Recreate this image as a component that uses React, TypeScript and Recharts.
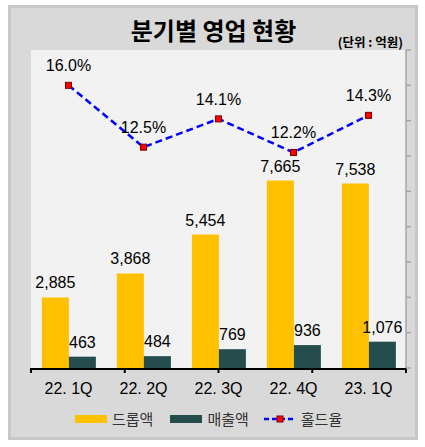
import React from "react";
import {
  ComposedChart,
  Bar,
  Line,
  XAxis,
  YAxis,
  CartesianGrid,
  LabelList,
} from "recharts";

const categories = ["22. 1Q", "22. 2Q", "22. 3Q", "22. 4Q", "23. 1Q"];
const dropAmount = [2885, 3868, 5454, 7665, 7538];
const salesAmount = [463, 484, 769, 936, 1076];
const holdRate = [16.0, 12.5, 14.1, 12.2, 14.3];
const rateTicks = [0, 2, 4, 6, 8, 10, 12, 14, 16, 18];
const boundaryTicks = [0, 1, 2, 3, 4, 5];

const title = "분기별 영업 현황";
const unitText = "(단위 : 억원)";
const legendNames = ["드롭액", "매출액", "홀드율"];

const data = categories.map((c, i) => ({
  name: c,
  drop: dropAmount[i],
  sales: salesAmount[i],
  rate: holdRate[i],
}));

const YELLOW = "#FFC000";
const TEAL = "#254D4D";
const BLUE = "#0000FF";
const FONT = "'Liberation Sans', Arial, 'Noto Sans CJK KR', sans-serif";
const KFONT = "'Noto Sans CJK KR', 'Liberation Sans', sans-serif";

const SquareDot = (props: any) => {
  const { cx, cy } = props;
  if (cx == null || cy == null) return null;
  return (
    <rect
      x={cx - 3}
      y={cy - 3}
      width={6}
      height={6}
      fill="#FF0000"
      stroke="#7A0000"
      strokeWidth={1}
    />
  );
};

export default function App() {
  return (
    <div
      style={{
        position: "absolute",
        left: 0,
        top: 0,
        width: 425,
        height: 447,
        background: "#ffffff",
      }}
    >
      <div
        style={{
          position: "absolute",
          left: 8,
          top: 5,
          width: 410,
          height: 435,
          boxSizing: "border-box",
          border: "3px solid #C8C8C8",
          background: "#D9D9D9",
        }}
      />
      <div
        style={{
          position: "absolute",
          left: 0,
          width: 425,
          top: 15,
          textAlign: "center",
          fontFamily: KFONT,
          fontWeight: 700,
          fontSize: 24,
          lineHeight: "30px",
          color: "#000",
          paddingLeft: 2,
          boxSizing: "border-box",
        }}
      >
        {title}
      </div>
      <div
        style={{
          position: "absolute",
          right: 22,
          top: 34,
          fontFamily: KFONT,
          fontWeight: 700,
          fontSize: 12.5,
          lineHeight: "16px",
          color: "#000",
        }}
      >
        {unitText}
      </div>
      <div style={{ position: "absolute", left: 0, top: 0 }}>
        <ComposedChart
          width={425}
          height={447}
          data={data}
          margin={{ top: 50, right: 13, bottom: 48, left: 31 }}
          barCategoryGap="14.5%"
          barGap={0}
        >
          <CartesianGrid
            fill="#F2F2F2"
            horizontal={false}
            vertical={false}
            stroke="none"
          />
          <XAxis
            xAxisId="b"
            type="number"
            domain={[0, 5]}
            ticks={boundaryTicks}
            tickFormatter={() => ""}
            tickSize={5}
            tickLine={{ stroke: "#000", strokeWidth: 2 }}
            axisLine={false}
            height={1}
            allowDataOverflow
          />
          <XAxis
            dataKey="name"
            xAxisId="m"
            height={30}
            tickLine={false}
            axisLine={{ stroke: "#000", strokeWidth: 2 }}
            tick={{ fill: "#000", fontSize: 16, fontFamily: FONT }}
            tickMargin={8}
            interval={0}
          />
          <YAxis yAxisId="l" hide domain={[0, 13000]} />
          <YAxis
            yAxisId="r"
            orientation="right"
            domain={[0, 18]}
            ticks={rateTicks}
            tickFormatter={() => ""}
            tickSize={5}
            width={6}
            axisLine={{ stroke: "#A6A6A6", strokeWidth: 1.5 }}
            tickLine={{ stroke: "#A6A6A6", strokeWidth: 1.5 }}
          />
          <Bar
            dataKey="drop"
            xAxisId="m"
            yAxisId="l"
            fill={YELLOW}
            isAnimationActive={false}
          >
            <LabelList
              dataKey="drop"
              position="top"
              offset={9}
              formatter={(v: any) => Number(v).toLocaleString("en-US")}
              style={{ fill: "#000", fontSize: 16, fontFamily: FONT }}
            />
          </Bar>
          <Bar
            dataKey="sales"
            xAxisId="m"
            yAxisId="l"
            fill={TEAL}
            isAnimationActive={false}
          >
            <LabelList
              dataKey="sales"
              position="top"
              offset={9}
              formatter={(v: any) => Number(v).toLocaleString("en-US")}
              style={{ fill: "#000", fontSize: 16, fontFamily: FONT }}
            />
          </Bar>
          <Line
            dataKey="rate"
            xAxisId="m"
            yAxisId="r"
            stroke={BLUE}
            strokeWidth={2.5}
            strokeDasharray="7 4"
            dot={<SquareDot />}
            activeDot={false}
            isAnimationActive={false}
          >
            <LabelList
              dataKey="rate"
              position="top"
              offset={14}
              formatter={(v: any) => Number(v).toFixed(1) + "%"}
              style={{ fill: "#000", fontSize: 16, fontFamily: FONT }}
            />
          </Line>
        </ComposedChart>
      </div>
      <div
        style={{
          position: "absolute",
          top: 409,
          left: 75,
          display: "flex",
          alignItems: "center",
          fontFamily: KFONT,
          fontSize: 15,
          color: "#333",
          lineHeight: "20px",
        }}
      >
        <svg width={32} height={8} style={{ marginRight: 5 }}>
          <rect x={0} y={0} width={32} height={8} fill={YELLOW} />
        </svg>
        <span style={{ marginRight: 17 }}>{legendNames[0]}</span>
        <svg width={32} height={8} style={{ marginRight: 5 }}>
          <rect x={0} y={0} width={32} height={8} fill={TEAL} />
        </svg>
        <span style={{ marginRight: 15 }}>{legendNames[1]}</span>
        <svg width={32} height={8} style={{ marginRight: 5 }}>
          <line
            x1={0}
            y1={4}
            x2={32}
            y2={4}
            stroke={BLUE}
            strokeWidth={2.5}
            strokeDasharray="5 3"
          />
          <rect x={13} y={1} width={6} height={6} fill="#FF0000" stroke="#7A0000" strokeWidth={1} />
        </svg>
        <span>{legendNames[2]}</span>
      </div>
    </div>
  );
}
